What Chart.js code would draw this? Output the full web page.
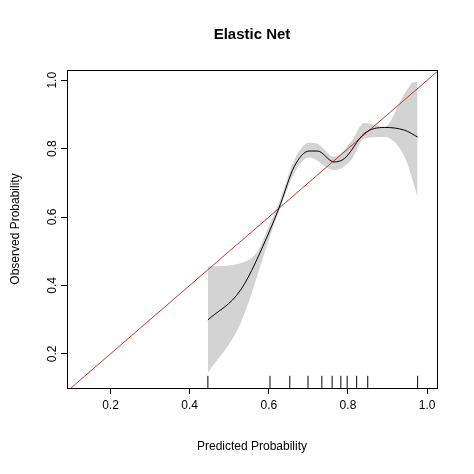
<!DOCTYPE html>
<html><head><script src="https://cdn.jsdelivr.net/npm/chart.js@4"></script>
<style>body{margin:0;background:#fff}#w{width:474px;height:474px}</style></head>
<body><div id="w"><canvas id="c"></canvas></div>
<script>
const curveX=[0.446,0.529,0.603,0.630,0.664,0.702,0.723,0.765,0.791,0.841,0.892,0.943,0.976];
const curveY=[0.299,0.387,0.562,0.640,0.747,0.793,0.793,0.761,0.771,0.844,0.862,0.854,0.834];
const lowX=[0.446,0.529,0.603,0.630,0.664,0.702,0.765,0.808,0.841,0.892,0.943,0.976];
const lowY=[0.144,0.290,0.543,0.630,0.727,0.774,0.737,0.766,0.830,0.834,0.776,0.659];
const upX=[0.446,0.529,0.571,0.603,0.630,0.664,0.702,0.723,0.765,0.808,0.841,0.892,0.943,0.968,0.976];
const upY=[0.455,0.465,0.499,0.581,0.655,0.766,0.817,0.814,0.776,0.820,0.875,0.864,0.961,0.995,0.995];
const rugX=[0.446,0.603,0.653,0.699,0.734,0.760,0.782,0.798,0.822,0.850,0.976];
const xTicks=[0.2,0.4,0.6,0.8,1.0];
const yTicks=[0.2,0.4,0.6,0.8,1.0];
const pts=(xs,ys)=>xs.map((x,i)=>({x,y:ys[i]}));
const deco={id:'deco',afterDraw(ch){const c=ch.ctx,a=ch.chartArea,y=ch.scales.y;
c.save();c.strokeStyle='#000';c.lineWidth=1;c.strokeRect(a.left+0.5,a.top+0.5,a.right-a.left,a.bottom-a.top);
c.fillStyle='#000';c.font='bold 15px "Liberation Sans", Arial';c.textAlign='center';c.textBaseline='middle';
c.fillText('Elastic Net',(a.left+a.right)/2,35);
c.font='12px "Liberation Sans", Arial';
yTicks.forEach(v=>{const p=y.getPixelForValue(v);c.save();c.translate(a.left-14,p);c.rotate(-Math.PI/2);c.fillText(v.toFixed(1),0,0);c.restore();});
c.save();c.translate(16,(a.top+a.bottom)/2);c.rotate(-Math.PI/2);c.fillText('Observed Probability',0,0);c.restore();
c.fillText('Predicted Probability',(a.left+a.right)/2,447);
c.restore();}};
new Chart(document.getElementById('c'),{type:'scatter',
data:{datasets:[
{data:pts(upX,upY),showLine:true,borderWidth:0,borderColor:'rgba(0,0,0,0)',pointRadius:0,fill:'+1',backgroundColor:'#d3d3d3',cubicInterpolationMode:'monotone',order:5},
{data:pts(lowX,lowY),showLine:true,borderWidth:0,borderColor:'rgba(0,0,0,0)',pointRadius:0,fill:false,cubicInterpolationMode:'monotone',order:4},
{data:[{x:0.09,y:0.09},{x:1.03,y:1.03}],showLine:true,borderColor:'#c0392b',borderWidth:1,pointRadius:0,order:2},
{data:pts(curveX,curveY),showLine:true,borderColor:'#000',borderWidth:1,pointRadius:0,cubicInterpolationMode:'monotone',order:1},
{data:rugX.map(x=>({x,y:0.118})),pointStyle:'line',rotation:90,radius:6,borderColor:'#000',borderWidth:1,order:0}
]},
options:{responsive:true,maintainAspectRatio:false,animation:false,
layout:{padding:{top:70,right:37,left:0,bottom:0}},
plugins:{legend:{display:false},tooltip:{enabled:false},filler:{drawTime:'beforeDatasetsDraw'}},
scales:{
x:{type:'linear',min:0.09,max:1.025,afterBuildTicks:s=>{s.ticks=xTicks.map(v=>({value:v}))},
afterFit:s=>{s.height=86},
grid:{drawOnChartArea:false,tickLength:6,color:'#000'},border:{display:false},
ticks:{color:'#000',font:{size:12,family:'"Liberation Sans", Arial'},padding:4,callback:v=>v.toFixed(1)}},
y:{type:'linear',min:0.1,max:1.03,afterBuildTicks:s=>{s.ticks=yTicks.map(v=>({value:v}))},
afterFit:s=>{s.width=67},
grid:{drawOnChartArea:false,tickLength:6,color:'#000'},border:{display:false},
ticks:{display:false}}}},
plugins:[deco]});
</script></body></html>
